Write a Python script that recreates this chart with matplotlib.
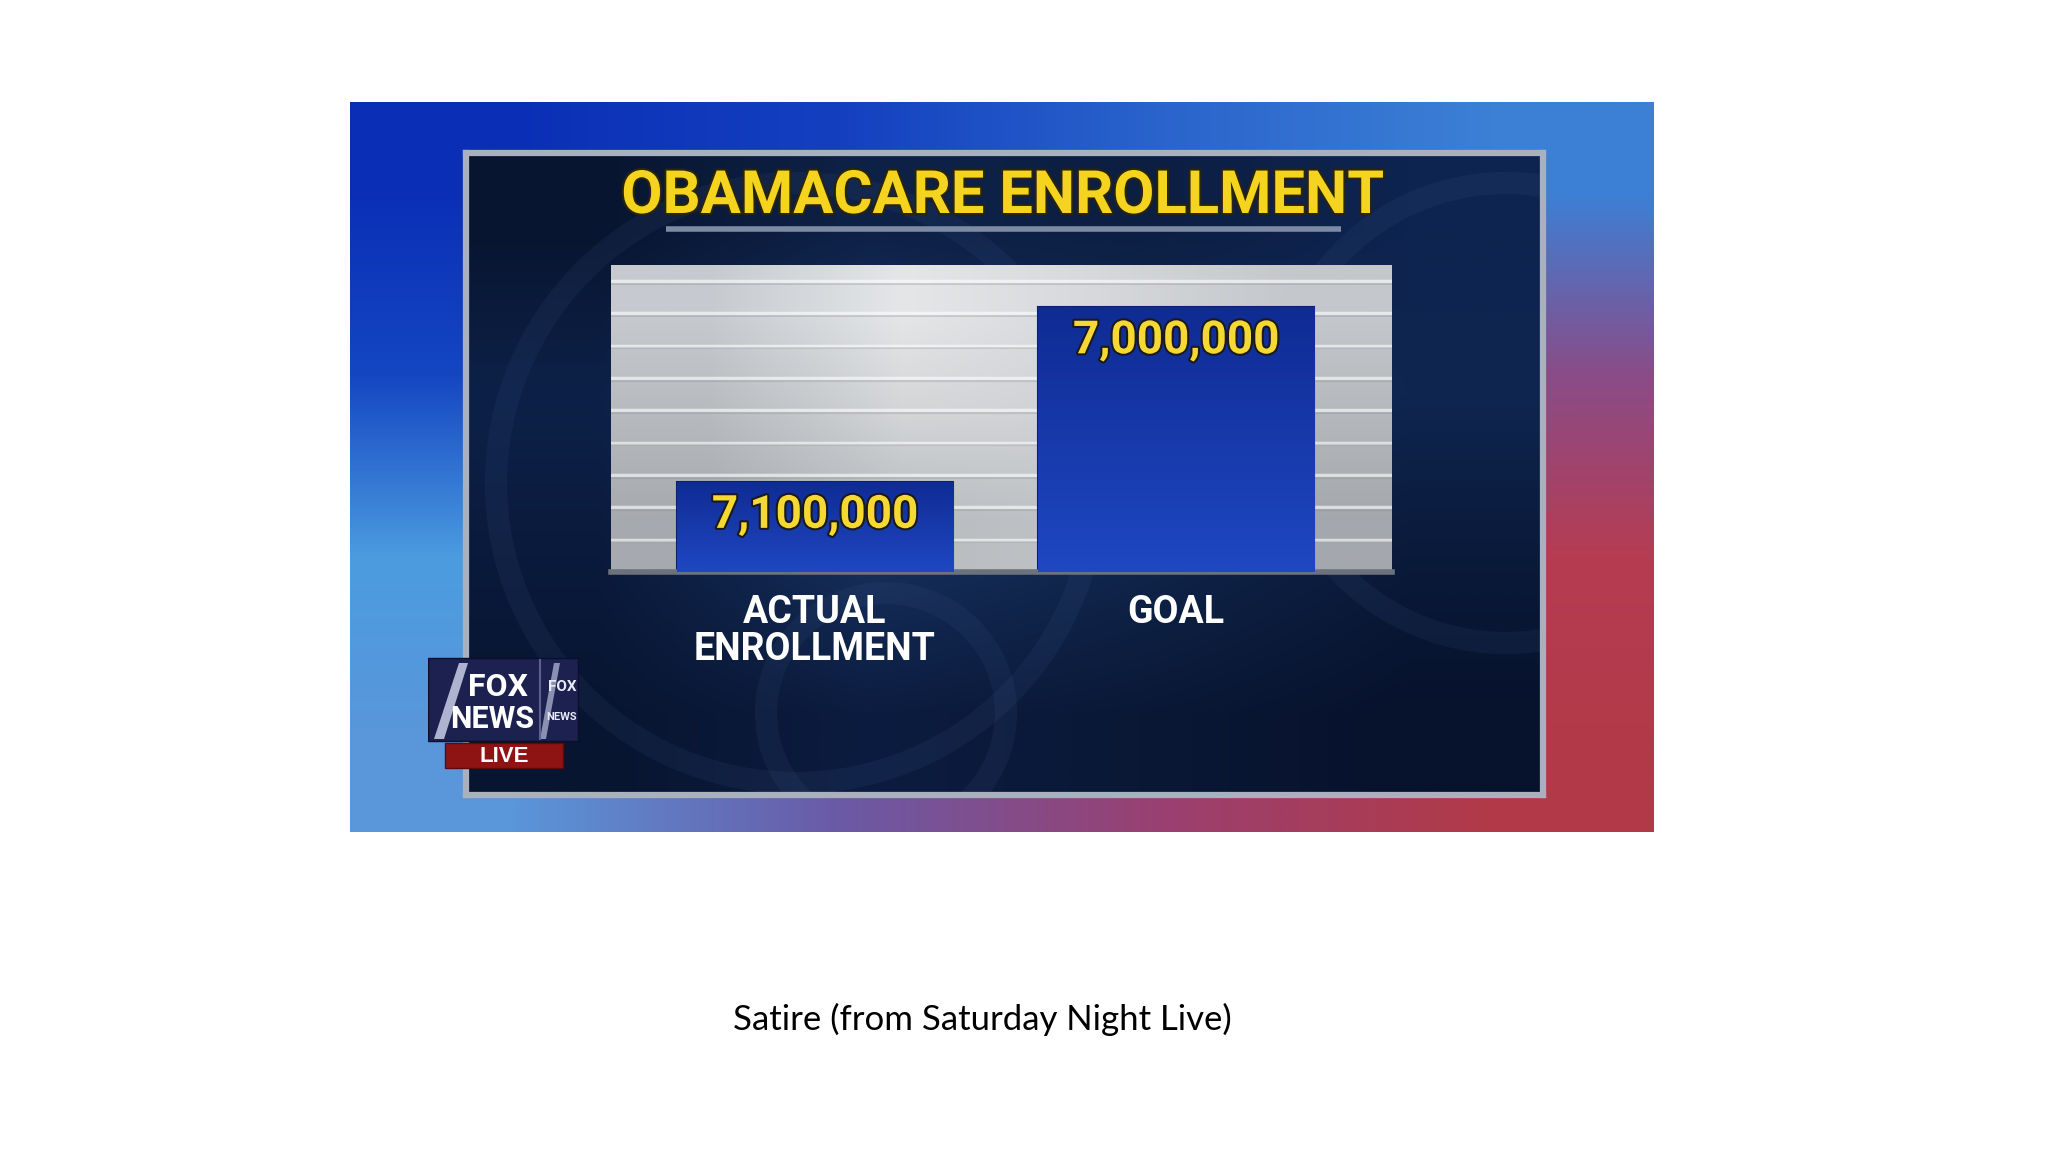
import numpy as np
import matplotlib
matplotlib.use("Agg")
import matplotlib.pyplot as plt
import matplotlib.patheffects as pe
from matplotlib.colors import to_rgb
from matplotlib.patches import Rectangle, Polygon, Circle

W, H = 2048, 1152

# --- chart content ---
title = "OBAMACARE ENROLLMENT"
categories = ["ACTUAL\nENROLLMENT", "GOAL"]
enrollment = [7_100_000, 7_000_000]
# bar heights as the broadcast drew them, in gridline units (not to scale with the numbers)
drawn_heights = [2.8, 8.2]
gridlines = [1, 2, 3, 4, 5, 6, 7, 8, 9]
caption = "Satire (from Saturday Night Live)"

TV_FONT = ['Roboto', 'DejaVu Sans']


def px_axes(fig, x0, y0, x1, y1, z=0):
    """Axes placed by pixel box (top-left origin)."""
    return fig.add_axes([x0 / W, 1 - y1 / H, (x1 - x0) / W, (y1 - y0) / H], zorder=z)


def grid_image(rows):
    return np.array([[to_rgb(c) for c in r] for r in rows])


fig = plt.figure(figsize=(W / 100, H / 100), dpi=100)
fig.patch.set_facecolor('white')

# studio backdrop: blue -> purple -> red
bg = px_axes(fig, 350, 102, 1654, 832, z=0)
bg.imshow(grid_image([
    ['#0a2fb6', '#1440c0', '#2a64cc', '#3c80d6'],
    ['#1446c2', '#2558c6', '#4a6cc4', '#8a4c88'],
    ['#4c9ce0', '#3a6cc0', '#8a4a8a', '#b63c52'],
    ['#5a96da', '#6a5aa6', '#9a4070', '#b23a48'],
]), extent=[0, 1, 0, 1], aspect='auto', interpolation='bilinear')
bg.set_axis_off()

# dark panel behind the chart
panel = px_axes(fig, 466, 153, 1543, 795, z=1)
panel.imshow(grid_image([
    ['#081530', '#0e2248', '#0c1e42', '#0e2450'],
    ['#0d2148', '#1c3466', '#16305e', '#0f2650'],
    ['#0a1a3c', '#16305c', '#10264c', '#0a1a3a'],
    ['#081530', '#0c1c40', '#0a1836', '#07122c'],
]), extent=[0, 1077, 642, 0], aspect='auto', interpolation='bilinear')
for cx, cy, r in [(330, 330, 300), (1040, 260, 230), (420, 560, 120)]:
    panel.add_patch(Circle((cx, cy), r, fill=False, ec='#4a6496', lw=16, alpha=0.11))
panel.plot([200, 875], [76, 76], color='#7d8aa3', lw=4, solid_capstyle='butt')
panel.set_xlim(0, 1077)
panel.set_ylim(642, 0)
panel.set_xticks([])
panel.set_yticks([])
for s in panel.spines.values():
    s.set_color('#a9b1bf')
    s.set_linewidth(4.5)

fig.text(1003 / W, 1 - 197 / H, title, ha='center', va='center', fontsize=43,
         fontweight='bold', family=TV_FONT, color='#f4d41e', zorder=5,
         path_effects=[pe.withStroke(linewidth=3, foreground='#2a2408')])

# the bar chart itself
ax = px_axes(fig, 611, 265, 1392, 572, z=2)
x = np.arange(len(categories))
ylim = (0, 9.5)
xlim = (-0.565, 1.598)
ax.imshow(grid_image([
    ['#c6cacf', '#e4e6e8', '#d6d8db', '#c4c7cb'],
    ['#b6babe', '#d2d4d6', '#cfd1d4', '#b4b8bc'],
    ['#a6aaaf', '#b8bcc0', '#c0c3c6', '#a4a8ad'],
]), extent=[xlim[0], xlim[1], ylim[0], ylim[1]], aspect='auto',
    interpolation='bilinear', zorder=0)
for g in gridlines:
    ax.axhline(g, color='white', lw=2.5, alpha=0.6, zorder=1)
    ax.axhline(g - 0.08, color='#7c8086', lw=1.5, alpha=0.25, zorder=1)

bars = ax.bar(x, drawn_heights, width=0.765, color='#1a3cae',
              edgecolor='#0a1f70', linewidth=1.5, zorder=2)
bar_grad = np.linspace(0, 1, 64)[:, None]
bar_grad = np.dstack([0.06 + 0.06 * bar_grad, 0.17 + 0.11 * bar_grad, 0.58 + 0.18 * bar_grad])
for b in bars:
    im = ax.imshow(bar_grad, extent=[b.get_x(), b.get_x() + b.get_width(), 0, b.get_height()],
                   aspect='auto', interpolation='bilinear', zorder=3)
    im.set_clip_path(b)

for xi, h, v in zip(x, drawn_heights, enrollment):
    ax.annotate(f"{v:,}", (xi, h), xytext=(0, -24), textcoords='offset points',
                ha='center', va='center', fontsize=33, fontweight='bold',
                family=TV_FONT, color='#f6d834', zorder=4,
                path_effects=[pe.withStroke(linewidth=3, foreground='#1a1a1a')])

ax.set_xlim(*xlim)
ax.set_ylim(*ylim)
ax.set_yticks([])
ax.set_xticks(x, categories)
ax.tick_params(axis='x', length=0, pad=16)
for lbl in ax.get_xticklabels():
    lbl.set_fontsize(27)
    lbl.set_fontweight('bold')
    lbl.set_family(TV_FONT)
    lbl.set_color('white')
    lbl.set_linespacing(1.0)
for side in ['top', 'left', 'right']:
    ax.spines[side].set_visible(False)
ax.spines['bottom'].set_color('#6c727c')
ax.spines['bottom'].set_linewidth(4)

# network bug in the corner
logo = px_axes(fig, 428, 657, 581, 771, z=4)
logo.add_patch(Rectangle((0, 1), 150, 83, fc='#1c2150', ec='#0c0f2a', lw=1))
logo.add_patch(Polygon([(6, 82), (16, 82), (40, 6), (31, 6)], fc='#c9cfe6', alpha=0.85))
logo.add_patch(Polygon([(112, 82), (118, 82), (132, 6), (126, 6)], fc='#b9c0dc', alpha=0.7))
logo.plot([112, 112], [3, 82], color='#5a6290', lw=1.5)
logo.text(70, 30, "FOX", ha='center', va='center', fontsize=23, fontweight='bold',
          family=TV_FONT, color='white')
logo.text(64, 62, "NEWS", ha='center', va='center', fontsize=22, fontweight='bold',
          family=TV_FONT, color='white')
logo.text(134, 30, "FOX", ha='center', va='center', fontsize=11, fontweight='bold',
          family=TV_FONT, color='#e8eaf4')
logo.text(134, 60, "NEWS", ha='center', va='center', fontsize=8, fontweight='bold',
          family=TV_FONT, color='#e8eaf4')
logo.add_patch(Rectangle((17, 86), 118, 25, fc='#8e1414', ec='#5c0a0a', lw=1))
logo.text(76, 99, "LIVE", ha='center', va='center', fontsize=16, fontweight='bold',
          family=['Liberation Sans', 'DejaVu Sans'], color='white')
logo.set_xlim(0, 153)
logo.set_ylim(114, 0)
logo.set_axis_off()

fig.text(982 / W, 1 - 1019 / H, caption, ha='center', va='center', fontsize=25,
         family=['Lato', 'DejaVu Sans'], color='black')

fig.savefig('out.png', dpi=100, facecolor='white')
